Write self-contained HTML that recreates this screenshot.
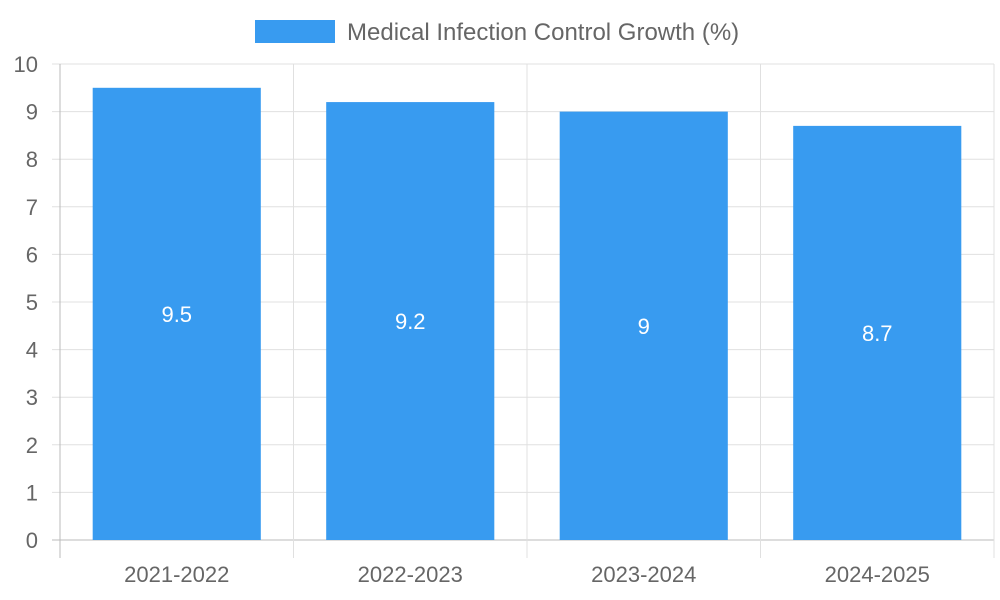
<!DOCTYPE html>
<html><head><meta charset="utf-8"><style>
html,body{margin:0;padding:0;background:#fff;}
svg{display:block;font-family:"Liberation Sans",Arial,sans-serif;}
</style></head><body>
<svg id="chart" width="1000" height="600" viewBox="0 0 1000 600" xmlns="http://www.w3.org/2000/svg">
<g id="legend">
<rect x="255" y="20" width="80" height="23" fill="#389bf0"/>
<text x="347" y="40" font-size="24" fill="#666">Medical Infection Control Growth (%)</text>
</g>
<g id="grid"></g>
<g id="bars"></g>
<g id="labels"></g>
</svg>
<script>
const categories = ["2021-2022","2022-2023","2023-2024","2024-2025"];
const values = [9.5, 9.2, 9, 8.7];
const yTicks = [0,1,2,3,4,5,6,7,8,9,10];

const NS = "http://www.w3.org/2000/svg";
const plotLeft = 60, plotRight = 994, plotTop = 64, plotBottom = 540, yMax = 10;
const band = (plotRight - plotLeft) / categories.length;
function yScale(v){ return plotBottom - (v / yMax) * (plotBottom - plotTop); }
function xScale(i){ return plotLeft + i * band; }
function mk(tag, attrs, parent){
  const e = document.createElementNS(NS, tag);
  for (const k in attrs) e.setAttribute(k, attrs[k]);
  parent.appendChild(e);
  return e;
}
const grid = document.getElementById('grid');
const bars = document.getElementById('bars');
const labels = document.getElementById('labels');

yTicks.forEach(t => {
  const y = yScale(t);
  const l = mk('line', {x1: plotLeft - 8, x2: plotRight, y1: y, y2: y, stroke: t === 0 ? '#bbb' : '#e0e0e0', 'stroke-width': 1}, grid);
  
  
  const tx = mk('text', {x: 38, y: y + 8, 'font-size': 22, fill: '#666', 'text-anchor': 'end'}, grid);
  
  
  tx.textContent = t;
});
for (let i = 0; i <= categories.length; i++) {
  const x = xScale(i);
  const l = mk('line', {x1: x, x2: x, y1: plotTop, y2: plotBottom + 18, stroke: i === 0 ? '#bbb' : '#e0e0e0', 'stroke-width': 1}, grid);
  
  
}
categories.forEach((c, i) => {
  const cx = xScale(i) + band / 2;
  const w = band * 0.72;
  const y = yScale(values[i]);
  const r = mk('rect', {x: cx - w / 2, y: y, width: w, height: plotBottom - y, fill: '#389bf0'}, bars);
  
  
  const v = mk('text', {x: cx, y: (y + plotBottom) / 2 + 8, 'font-size': 22, fill: '#fff', 'text-anchor': 'middle'}, labels);
  
  
  v.textContent = values[i];
  const xl = mk('text', {x: cx, y: 582, 'font-size': 22, fill: '#666', 'text-anchor': 'middle'}, labels);
  
  
  xl.textContent = c;
});
</script>
</body></html>
